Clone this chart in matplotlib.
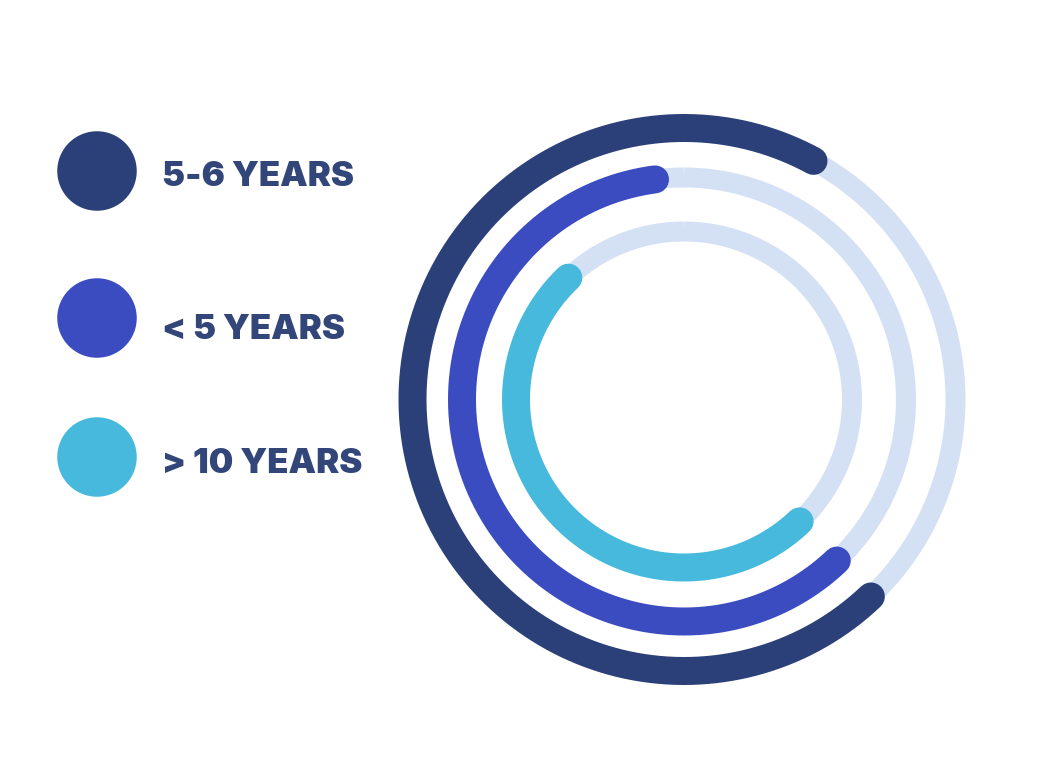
import numpy as np
import matplotlib
matplotlib.use("Agg")
import matplotlib.pyplot as plt

# Data
categories = ["5-6 YEARS", "< 5 YEARS", "> 10 YEARS"]
values = [70, 60, 50]          # percent of full circle
colors = ["#2B4079", "#3B4BC0", "#46B9DC"]
track_color = "#D4E1F4"
text_color = "#33467A"

W, H, DPI = 1037, 783, 100
fig = plt.figure(figsize=(W / DPI, H / DPI), dpi=DPI)
fig.patch.set_facecolor("white")

px = 72.0 / DPI  # points per pixel

# Legend axes in pixel coordinates
lax = fig.add_axes([0, 0, 1, 1])
lax.set_xlim(0, W)
lax.set_ylim(H, 0)
lax.axis("off")
leg_y = [171, 318, 457]
text_y = [177.5, 330, 464]
for cat, col, cy, ty in zip(categories, colors, leg_y, text_y):
    lax.scatter([97], [cy], s=(79.5 * px) ** 2, color=col, edgecolors="none")
    lax.text(162, ty, cat, color=text_color, fontsize=25, fontweight="black",
             family=["Inter", "DejaVu Sans"], va="center", ha="left")

# Radial rings
cx, cy = 684, 399.5
half = 300
pax = fig.add_axes([(cx - half) / W, (H - cy - half) / H, 2 * half / W, 2 * half / H],
                   projection="polar")
pax.set_theta_zero_location("N")
pax.set_theta_direction(-1)
pax.set_ylim(0, half)
pax.axis("off")
pax.patch.set_alpha(0)

radii = [271.5, 222, 168]
start_deg = 136.5
full = np.linspace(0, 2 * np.pi, 721)
for val, col, r in zip(values, colors, radii):
    pax.plot(full, np.full_like(full, r), color=track_color, lw=20 * px,
             solid_capstyle="butt", zorder=1)
    th = np.deg2rad(np.linspace(start_deg, start_deg + val * 3.6, 600))
    pax.plot(th, np.full_like(th, r), color=col, lw=28 * px,
             solid_capstyle="round", zorder=2)

fig.savefig("out.png", dpi=DPI, facecolor="white")
